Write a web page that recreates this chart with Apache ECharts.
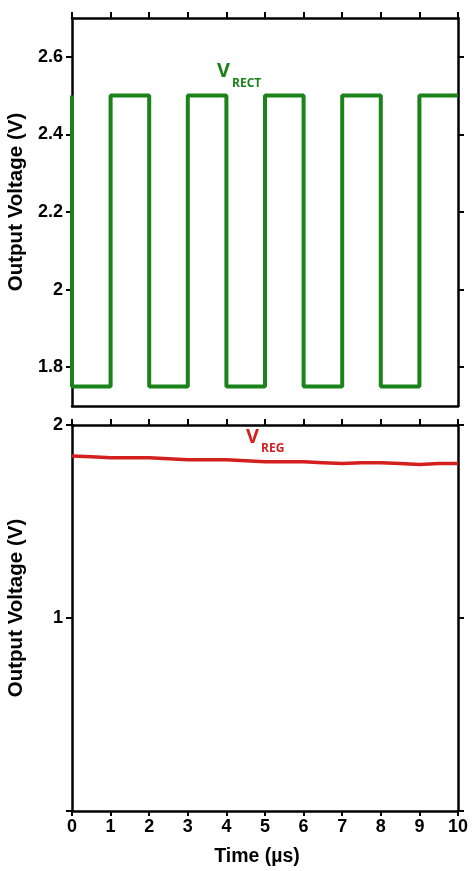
<!doctype html>
<html>
<head>
<meta charset="utf-8">
<title>rect-reg</title>
<style>
	html,body{height:100%;padding:0;margin:0;background:#fff;}
</style>
</head>
<body>
<div id="chart" style="width:474px;height:871px;"></div>
<script src="https://cdn.jsdelivr.net/npm/echarts@6/dist/echarts.min.js"></script>
<script>
// square wave from the rectifier (time in us, volts)
var rectTime = [0, 0, 1, 1, 2, 2, 3, 3, 4, 4, 5, 5, 6, 6, 7, 7, 8, 8, 9, 9, 10];
var rectVolt = [2.5, 1.75, 1.75, 2.5, 2.5, 1.75, 1.75, 2.5, 2.5, 1.75, 1.75, 2.5, 2.5, 1.75, 1.75, 2.5, 2.5, 1.75, 1.75, 2.5, 2.5];
// regulated output
var regTime = [0, 0.5, 1, 1.5, 2, 2.5, 3, 3.5, 4, 4.5, 5, 5.5, 6, 6.5, 7, 7.5, 8, 8.5, 9, 9.5, 10];
var regVolt = [1.84, 1.835, 1.83, 1.83, 1.83, 1.825, 1.82, 1.82, 1.82, 1.815, 1.81, 1.81, 1.81, 1.805, 1.80, 1.805, 1.805, 1.80, 1.795, 1.80, 1.80];
var topTicks = [1.8, 2, 2.2, 2.4, 2.6];
var botTicks = [1, 2];
var timeTicks = [0, 1, 2, 3, 4, 5, 6, 7, 8, 9, 10];

function pairs(xs, ys){
	var out = [];
	for(var i = 0; i < xs.length; i++){ out.push([xs[i], ys[i]]); }
	return out;
}

var FONT = '"Liberation Sans", Arial, sans-serif';
var axisLn = {show: true, onZero: false, lineStyle: {color: '#000', width: 2.5}};
var tickSt = {lineStyle: {color: '#000', width: 2}};
var lbl = {color: '#000', fontSize: 18, fontWeight: 'bold', fontFamily: FONT};
// y titles sit a little above the panel centre in the original
var yTitleSt = {color: '#000', fontSize: 20.5, fontWeight: 'bold', fontFamily: FONT, padding: [0, 0, 0, 20]};
var xTitleSt = {color: '#000', fontSize: 19.5, fontWeight: 'bold', fontFamily: FONT, padding: [0, 16, 0, 0]};

var myChart = echarts.init(document.getElementById('chart'));
var option = {
	animation: false,
	backgroundColor: '#fff',
	grid: [
		{left: 72, top: 18, width: 386, height: 388, outerBoundsMode: 'none', containLabel: false},
		{left: 72, top: 425, width: 386, height: 386, outerBoundsMode: 'none', containLabel: false}
	],
	xAxis: [
		// top panel bottom
		{gridIndex: 0, type: 'value', min: 0, max: 10, interval: 1, position: 'bottom',
			axisLine: axisLn, axisTick: {show: false}, axisLabel: {show: false}, splitLine: {show: false}},
		// top panel top
		{gridIndex: 0, type: 'value', min: 0, max: 10, interval: 1, position: 'top',
			axisLine: axisLn, axisTick: Object.assign({length: 6}, tickSt), axisLabel: {show: false}, splitLine: {show: false}},
		// bottom panel bottom
		{gridIndex: 1, type: 'value', min: 0, max: 10, interval: 1, position: 'bottom',
			axisLine: axisLn, axisTick: Object.assign({length: 5}, tickSt),
			axisLabel: Object.assign({margin: 7, customValues: timeTicks}, lbl), splitLine: {show: false},
			name: 'Time (\u00b5s)', nameLocation: 'middle', nameGap: 36, nameTextStyle: xTitleSt},
		// bottom panel top
		{gridIndex: 1, type: 'value', min: 0, max: 10, interval: 1, position: 'top',
			axisLine: axisLn, axisTick: Object.assign({length: 6}, tickSt), axisLabel: {show: false}, splitLine: {show: false}}
	],
	yAxis: [
		{gridIndex: 0, type: 'value', min: 1.7, max: 2.7, position: 'left',
			axisLine: axisLn, axisTick: Object.assign({length: 6, customValues: topTicks}, tickSt),
			axisLabel: Object.assign({margin: 9, customValues: topTicks}, lbl), splitLine: {show: false},
			name: 'Output Voltage (V)', nameLocation: 'middle', nameGap: 45, nameRotate: 90, nameTextStyle: yTitleSt},
		{gridIndex: 0, type: 'value', min: 1.7, max: 2.7, position: 'right',
			axisLine: axisLn, axisTick: Object.assign({length: 6, customValues: topTicks}, tickSt),
			axisLabel: {show: false}, splitLine: {show: false}},
		{gridIndex: 1, type: 'value', min: 0, max: 2, interval: 1, position: 'left',
			axisLine: axisLn, axisTick: Object.assign({length: 6}, tickSt),
			axisLabel: Object.assign({margin: 9, customValues: botTicks}, lbl), splitLine: {show: false},
			name: 'Output Voltage (V)', nameLocation: 'middle', nameGap: 45, nameRotate: 90, nameTextStyle: yTitleSt},
		{gridIndex: 1, type: 'value', min: 0, max: 2, interval: 1, position: 'right',
			axisLine: axisLn, axisTick: Object.assign({length: 6}, tickSt),
			axisLabel: {show: false}, splitLine: {show: false}}
	],
	series: [
		{name: 'VRECT', type: 'line', xAxisIndex: 0, yAxisIndex: 0, data: pairs(rectTime, rectVolt),
			showSymbol: false, lineStyle: {color: '#1a841a', width: 4}, z: 1},
		{name: 'VREG', type: 'line', xAxisIndex: 2, yAxisIndex: 2, data: pairs(regTime, regVolt),
			showSymbol: false, lineStyle: {color: '#d41f1f', width: 3.5}, z: 1}
	],
	graphic: [
		{type: 'text', left: 217, top: 61, style: {text: 'V', fill: '#1a841a', font: 'bold 20px "Open Sans", sans-serif'}},
		{type: 'text', left: 232, top: 78, style: {text: 'RECT', fill: '#1a841a', font: 'bold 12px "Open Sans", sans-serif'}},
		{type: 'text', left: 246, top: 427, style: {text: 'V', fill: '#d41f1f', font: 'bold 20px "Open Sans", sans-serif'}},
		{type: 'text', left: 261, top: 443, style: {text: 'REG', fill: '#d41f1f', font: 'bold 12px "Open Sans", sans-serif'}}
	]
};
myChart.setOption(option);
</script>
</body>
</html>
